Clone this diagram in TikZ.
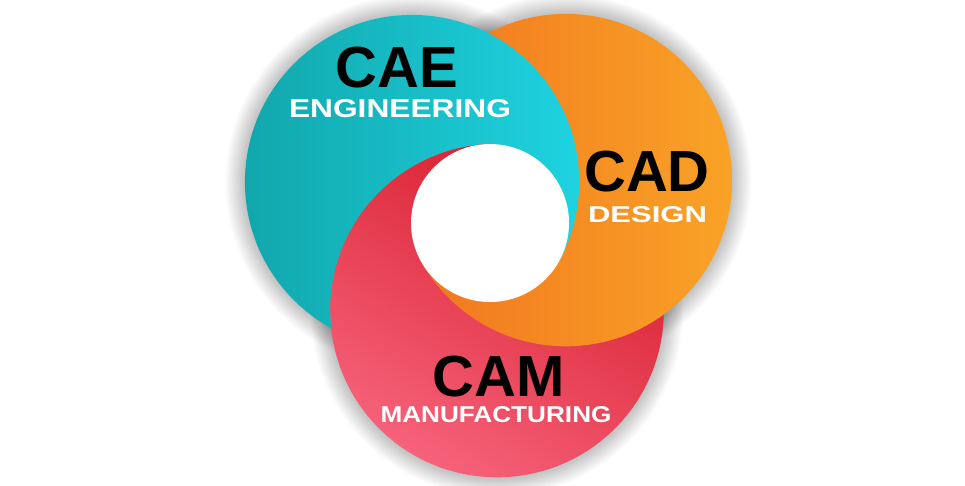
\documentclass[tikz,border=0pt]{standalone}
\usepackage{fontspec}
\setmainfont{Liberation Sans}
\usepackage{graphicx}
\usepackage{tikz}
\usetikzlibrary{calc}
\definecolor{caedark}{HTML}{11A7AC}
\definecolor{caelight}{HTML}{1ED3E0}
\definecolor{caddark}{HTML}{F1741F}
\definecolor{cadlight}{HTML}{F9A326}
\definecolor{camdark}{HTML}{D71C2B}
\definecolor{camlight}{HTML}{F6627A}

\begin{document}
\begin{tikzpicture}[scale=0.3515,
                    caeshade/.style={left color=caedark, right color=caelight},
                    cadshade/.style={left color=caddark, right color=cadlight},
                    camshade/.style={top color=camdark, bottom color=camlight, shading angle=-30},
                    title/.style={font=\bfseries\fontsize{58}{58}\selectfont, text=black},
                    sub/.style={font=\bfseries, text=white}]
                    \tikzstyle{every node}+=[inner sep=0pt]
                    \fill [white] (0,0) rectangle (96.5,-48.6);
                    \useasboundingbox (0,0) rectangle (96.5,-48.6);
                    \coordinate (cae) at (41.2,-18.2);
                    \coordinate (cad) at (56.59,-18.01);
                    \coordinate (cam) at (49.7,-31.05);
                    \coordinate (hole) at (49,-22.3);
                    \foreach \k in {1,...,12}
                    {
                      \fill [black, opacity=0.018] (cae) circle [radius=16.71+0.16*\k];
                      \fill [black, opacity=0.018] (cad) circle [radius=16.62+0.16*\k];
                      \fill [black, opacity=0.018] (cam) circle [radius=16.68+0.16*\k];
                    }
                    \shade [camshade] (cam) circle (16.68);
                    \shade [cadshade] (cad) circle (16.62);
                    \begin{scope}[even odd rule]
                      \clip (0,0) rectangle (96.5,-48.6) (cam) circle (16.68);
                      \shade [caeshade] (cae) circle (16.71);
                    \end{scope}
                    \begin{scope}
                      \clip (cam) circle (16.68);
                      \clip (hole) -- ($(cam)!6!(hole)$) -- ($(cad)!6!(hole)$) -- cycle;
                      \shade [camshade] (cam) circle (16.68);
                    \end{scope}
                    \begin{scope}
                      \clip (cae) circle (16.71);
                      \clip (hole) -- ($(cae)!6!(hole)$) -- ($(cam)!6!(hole)$) -- cycle;
                      \shade [caeshade] (cae) circle (16.71);
                    \end{scope}
                    \fill [white] (hole) circle (7.9);
                    \node [title] (caetitle) at (39.65,-6.75) {CAE};
                    \node [sub] (caesub) at (40.0,-10.85) {\resizebox{222pt}{18pt}{ENGINEERING}};
                    \node [title] (cadtitle) at (64.7,-17.15) {CAD};
                    \node [sub] (cadsub) at (64.75,-21.5) {\resizebox{119pt}{16pt}{DESIGN}};
                    \node [title] (camtitle) at (49.85,-37.65) {CAM};
                    \node [sub] (camsub) at (49.6,-41.5) {\resizebox{231pt}{16pt}{MANUFACTURING}};
                \end{tikzpicture}
\end{document}
